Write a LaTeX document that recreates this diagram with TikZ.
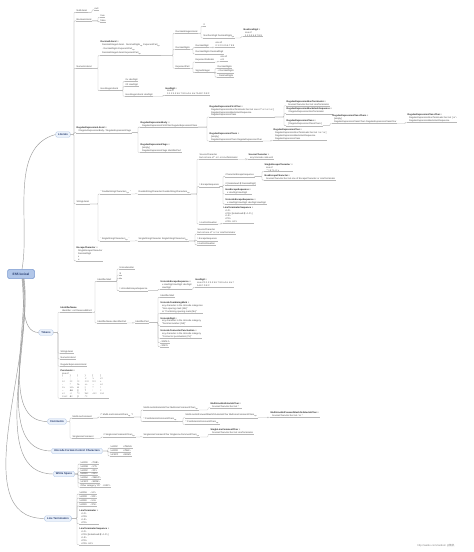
\documentclass[tikz,border=0pt]{standalone}
\usepackage{fontspec}
\setmainfont{Liberation Sans}
\newfontfamily\symfnt{DejaVu Sans}
\newfontfamily\cjk{Noto Sans CJK SC}
\usetikzlibrary{positioning}
\definecolor{lnk}{HTML}{B8B8B8}
\definecolor{txt}{HTML}{474747}
\definecolor{ttlc}{HTML}{222222}
\definecolor{topfill}{HTML}{EAF1FB}
\definecolor{topdraw}{HTML}{B3C7E6}
\definecolor{rootfill}{HTML}{B2C7E9}
\definecolor{rootdraw}{HTML}{7C9AD0}
\definecolor{navy}{HTML}{22376A}
\newcommand\optsub{\textsubscript{opt}}
\newcommand\notinsym{{\symfnt ∉}}
\newcommand\prodname[1]{{\color{ttlc}\bfseries #1}}
\newcommand\nl{\\\hspace*{1.5pt}}
\newcommand\ucode[3]{\makebox[#1][l]{\textbackslash u#2}#3}
\newcommand\linkto[2]{\draw[link] (#1.south east) -| ([xshift=-2pt]#2.south west) -- (#2.south west);}
\newcommand\toplink[2]{\draw[link] (#1.east) -| ([xshift=-2pt]#2.south west) -- (#2.south west);}
\newcommand\pc[1]{\makebox[7.6pt][l]{#1}}

\begin{document}
\begin{tikzpicture}[x=1pt,y=-1pt,
  uline/.style={draw=lnk,line width=0.25pt},
  link/.style={draw=lnk,line width=0.3pt,rounded corners=0.8pt},
  curve/.style={draw=lnk!85!black,line width=0.45pt},
  leaf/.style={anchor=west,inner xsep=0.5pt,inner ysep=0.35pt,text=txt,align=left,
    font=\fontsize{2.3}{2.9}\selectfont,
    append after command={(\tikzlastnode.south west) edge[uline] (\tikzlastnode.south east)}},
  blk/.style={leaf,anchor=north west},
  topic/.style={draw=topdraw,fill=topfill,rounded corners=1.5pt,line width=0.35pt,text=navy,
    font=\fontsize{2.7}{3.2}\selectfont\bfseries,inner xsep=2.5pt,inner ysep=1.2pt,minimum height=5.5pt},
  rootbox/.style={draw=rootdraw,fill=rootfill,rounded corners=1.5pt,line width=0.5pt,text=navy,
    font=\fontsize{3.2}{4}\selectfont\bfseries,minimum width=27pt,minimum height=8.5pt}]
  \fill[white] (0,0) rectangle (474,552);
  \useasboundingbox (0,0) rectangle (474,552);

  \node[rootbox] (root) at (21,274) {ES5 lexical};
  \node[topic] (lit) at (63,134.5) {Literals};
  \node[topic] (tok) at (46,332.5) {Tokens};
  \node[topic] (com) at (57,421.5) {Comments};
  \node[topic] (ufc) at (77,451) {Unicode Format-Control Characters};
  \node[topic] (ws) at (64,474) {White Space};
  \node[topic] (lt) at (58,518.5) {Line Terminators};

  % Literals
  \node[leaf] (nul) at (76,11) {NullLiteral};
  \node[leaf] (nulv) at (94,8.5) {null};
  \node[leaf] (boo) at (76,19.5) {BooleanLiteral};
  \node[leaf] (btrue) at (100,16) {true};
  \node[leaf] (bfalse) at (100,20.5) {false};
  \node[leaf] (num) at (76,67) {NumericLiteral};
  \node[blk] (dec) at (100,40.5) {\prodname{DecimalLiteral ::}\nl DecimalIntegerLiteral . DecimalDigits\optsub\ ExponentPart\optsub\nl . DecimalDigits ExponentPart\optsub\nl DecimalIntegerLiteral ExponentPart\optsub};
  \node[leaf] (dil) at (175,31.7) {DecimalIntegerLiteral};
  \node[leaf] (dil0) at (203,25) {0};
  \node[leaf] (dilnz) at (203,36) {NonZeroDigit DecimalDigits\optsub};
  \node[blk] (nzd) at (243,28) {\prodname{NonZeroDigit ::}\nl one of\nl 1 2 3 4 5 6 7 8 9};
  \node[leaf] (dds) at (175,47.7) {DecimalDigits};
  \node[leaf] (ddsd) at (195,46) {DecimalDigit};
  \node[blk] (ddone) at (215,41.5) {one of\\0 1 2 3 4 5 6 7 8 9};
  \node[leaf] (ddsdd) at (195,52.3) {DecimalDigits DecimalDigit};
  \node[leaf] (exp) at (175,66.7) {ExponentPart};
  \node[leaf] (expi) at (195,60.3) {ExponentIndicator};
  \node[blk] (expone) at (220,55.5) {one of\\e E};
  \node[leaf] (expsi) at (195,71) {SignedInteger};
  \node[leaf] (sid) at (217,67) {DecimalDigits};
  \node[leaf] (sidp) at (217,71.3) {+ DecimalDigits};
  \node[leaf] (sidm) at (217,75.5) {- DecimalDigits};
  \node[leaf] (hex) at (100,89) {HexIntegerLiteral};
  \node[leaf] (hex0x) at (125,80) {0x HexDigit};
  \node[leaf] (hex0X) at (125,85) {0X HexDigit};
  \node[leaf] (hexhd) at (125,94.7) {HexIntegerLiteral HexDigit};
  \node[blk] (hexd) at (165,86.8) {\prodname{HexDigit ::}\nl one of\nl 0 1 2 3 4 5 6 7 8 9 a b c d e f A B C D E F};

  \node[blk] (rel) at (76,126.5) {\prodname{RegularExpressionLiteral ::}\nl / RegularExpressionBody / RegularExpressionFlags};
  \node[blk] (reb) at (140,121) {\prodname{RegularExpressionBody ::}\nl RegularExpressionFirstChar RegularExpressionChars};
  \node[blk] (rfc) at (209,105) {\prodname{RegularExpressionFirstChar ::}\nl RegularExpressionNonTerminator but not one of * or \textbackslash\ or / or {[}\nl RegularExpressionBackslashSequence\nl RegularExpressionClass};
  \node[blk] (rnt) at (286,100) {\prodname{RegularExpressionNonTerminator ::}\nl SourceCharacter but not LineTerminator};
  \node[blk] (rbs) at (286,107.5) {\prodname{RegularExpressionBackslashSequence ::}\nl \textbackslash\ RegularExpressionNonTerminator};
  \node[blk] (rcl) at (286,119.5) {\prodname{RegularExpressionClass ::}\nl {[} RegularExpressionClassChars {]}};
  \node[blk] (rccs) at (332,114.5) {\prodname{RegularExpressionClassChars ::}\nl {[}empty{]}\nl RegularExpressionClassChars RegularExpressionClassChar};
  \node[blk] (rcc) at (407,113.5) {\prodname{RegularExpressionClassChar ::}\nl RegularExpressionNonTerminator but not {]} or \textbackslash\nl RegularExpressionBackslashSequence};
  \node[blk] (rcs) at (209,132) {\prodname{RegularExpressionChars ::}\nl {[}empty{]}\nl RegularExpressionChars RegularExpressionChar};
  \node[blk] (rch) at (273,128.5) {\prodname{RegularExpressionChar ::}\nl RegularExpressionNonTerminator but not \textbackslash\ or / or {[}\nl RegularExpressionBackslashSequence\nl RegularExpressionClass};
  \node[blk] (ref) at (140,143.5) {\prodname{RegularExpressionFlags ::}\nl {[}empty{]}\nl RegularExpressionFlags IdentifierPart};

  \node[leaf] (str) at (76,202.3) {StringLiteral};
  \node[leaf] (sdq) at (100,192) {" DoubleStringCharacters\optsub\ "};
  \node[leaf] (dsc) at (138,192) {DoubleStringCharacter DoubleStringCharacters\optsub};
  \node[blk] (dsrc) at (199,153.5) {SourceCharacter\\but not one of " or \textbackslash\ or LineTerminator};
  \node[blk] (srcch) at (248,153) {\prodname{SourceCharacter ::}\nl any Unicode code unit};
  \node[leaf] (desc) at (199,185) {\textbackslash\ EscapeSequence};
  \node[leaf] (ces) at (225,175) {CharacterEscapeSequence};
  \node[blk] (sec) at (264,163) {\prodname{SingleEscapeCharacter ::}\nl one of\nl \textquotesingle\ " \textbackslash\ b f n r t v};
  \node[blk] (nec) at (264,174) {\prodname{NonEscapeCharacter ::}\nl SourceCharacter but not one of EscapeCharacter or LineTerminator};
  \node[leaf] (zla) at (225,183.3) {0 {[}lookahead \notinsym\ DecimalDigit{]}};
  \node[blk] (hes) at (225,188) {\prodname{HexEscapeSequence ::}\nl x HexDigit HexDigit};
  \node[blk] (ues) at (225,198) {\prodname{UnicodeEscapeSequence ::}\nl u HexDigit HexDigit HexDigit HexDigit};
  \node[leaf] (dlc) at (199,222.7) {LineContinuation};
  \node[blk] (lts) at (223,206) {\prodname{LineTerminatorSequence ::}\nl <LF>\nl <CR> {[}lookahead \notinsym\ <LF>{]}\nl <LS>\nl <PS>\nl <CR> <LF>};
  \node[leaf] (ssq) at (100,239) {\textquotesingle\ SingleStringCharacters\optsub\ \textquotesingle};
  \node[leaf] (ssc) at (138,239) {SingleStringCharacter SingleStringCharacters\optsub};
  \node[blk] (ssrc) at (197,228.3) {SourceCharacter\\but not one of \textquotesingle\ or \textbackslash\ or LineTerminator};
  \node[leaf] (sesc) at (197,239) {\textbackslash\ EscapeSequence};
  \node[leaf] (slc) at (197,243.5) {LineContinuation};
  \node[blk] (escc) at (76,246.5) {\prodname{EscapeCharacter ::}\nl SingleEscapeCharacter\nl DecimalDigit\nl x\nl u};

  % Tokens
  \node[blk] (idn) at (60,306.5) {\prodname{IdentifierName}\nl Identifier: not ReservedWord};
  \node[leaf] (ids) at (97,280) {IdentifierStart};
  \node[leaf] (ul) at (119,267.7) {UnicodeLetter};
  \node[leaf] (dol) at (119,273.5) {\$};
  \node[leaf] (und) at (119,277.5) {\_};
  \node[leaf] (bues) at (119,289) {\textbackslash\ UnicodeEscapeSequence};
  \node[blk] (ues2) at (160,280.3) {\prodname{UnicodeEscapeSequence ::}\nl u HexDigit HexDigit HexDigit\nl HexDigit};
  \node[blk] (hd2) at (195,278.7) {\prodname{HexDigit ::}\nl one of 0 1 2 3 4 5 6 7 8 9 a b c d e f\nl A B C D E F};
  \node[leaf] (idnp) at (97,321.7) {IdentifierName IdentifierPart};
  \node[leaf] (idp) at (135,321.3) {IdentifierPart};
  \node[leaf] (idp1) at (160,296) {IdentifierStart};
  \node[blk] (ucm) at (160,301.5) {\prodname{UnicodeCombiningMark ::}\nl any character in the Unicode categories\nl “Non-spacing mark (Mn)”\nl or “Combining spacing mark (Mc)”};
  \node[blk] (udg) at (160,316.8) {\prodname{UnicodeDigit ::}\nl any character in the Unicode category\nl “Decimal number (Nd)”};
  \node[blk] (ucp) at (160,329.3) {\prodname{UnicodeConnectorPunctuation ::}\nl any character in the Unicode category\nl “Connector punctuation (Pc)”};
  \node[leaf] (zwnj) at (160,341.3) {<ZWNJ>};
  \node[leaf] (zwj) at (160,345.3) {<ZWJ>};
  \node[leaf] (tstr) at (60,351.7) {StringLiteral};
  \node[leaf] (tnum) at (60,357.7) {NumericLiteral};
  \node[leaf] (trel) at (60,364.7) {RegularExpressionLiteral};
  \node[blk] (punc) at (60,369) {\prodname{Punctuator ::}\nl one of
    \nl \pc{\{}\pc{\}}\pc{(}\pc{)}\pc{[}\pc{]}
    \nl \pc{.}\pc{;}\pc{,}\pc{<}\pc{>}\pc{<=}
    \nl \pc{>=}\pc{==}\pc{!=}\pc{===}\pc{!==}\pc{+}
    \nl \pc{-}\pc{*}\pc{\%}\pc{++}\pc{-{}-}\pc{<{}<}
    \nl \pc{>{}>}\pc{>{}>{}>}\pc{\&}\pc{|}\pc{\textasciicircum}\pc{!}
    \nl \pc{\textasciitilde}\pc{\&\&}\pc{||}\pc{?}\pc{:}\pc{=}
    \nl \pc{+=}\pc{-=}\pc{*=}\pc{\%=}\pc{<{}<=}\pc{>{}>=}
    \nl \pc{>{}>{}>=}\pc{\&=}\pc{|=}\pc{\textasciicircum=}};

  % Comments
  \node[leaf] (mlc) at (72,416.7) {MultiLineComment};
  \node[leaf] (mlc1) at (100,415) {/* MultiLineCommentChars\optsub\ */};
  \node[leaf] (mlc2) at (143,408) {MultiLineNotAsteriskChar MultiLineCommentChars\optsub};
  \node[blk] (mlnac) at (210,402) {\prodname{MultiLineNotAsteriskChar ::}\nl SourceCharacter but not *};
  \node[leaf] (mlc3) at (143,419.3) {* PostAsteriskCommentChars\optsub};
  \node[leaf] (pac1) at (185,415.7) {MultiLineNotForwardSlashOrAsteriskChar MultiLineCommentChars\optsub};
  \node[blk] (mlnf) at (270,411.5) {\prodname{MultiLineNotForwardSlashOrAsteriskChar ::}\nl SourceCharacter but not / or *};
  \node[leaf] (pac2) at (185,422.5) {* PostAsteriskCommentChars\optsub};
  \node[leaf] (slcm) at (72,436.7) {SingleLineComment};
  \node[leaf] (slc1) at (103,435) {// SingleLineCommentChars\optsub};
  \node[leaf] (slc2) at (143,435) {SingleLineCommentChar SingleLineCommentChars\optsub};
  \node[blk] (slch) at (210,428.7) {\prodname{SingleLineCommentChar ::}\nl SourceCharacter but not LineTerminator};

  % format-control, white space, line terminators
  \node[leaf] (u1) at (110,446.7) {\ucode{12.5pt}{200C}{<ZWNJ>}};
  \node[leaf] (u2) at (110,450.7) {\ucode{12.5pt}{200D}{<ZWJ>}};
  \node[leaf] (u3) at (110,454.5) {\ucode{12.5pt}{FEFF}{<BOM>}};
  \node[leaf] (w1) at (80,462.7) {\ucode{11pt}{0009}{<TAB>}};
  \node[leaf] (w2) at (80,466.7) {\ucode{11pt}{000B}{<VT>}};
  \node[leaf] (w3) at (80,470.3) {\ucode{11pt}{000C}{<FF>}};
  \node[leaf] (w4) at (80,474) {\ucode{11pt}{0020}{<SP>}};
  \node[leaf] (w5) at (80,477.7) {\ucode{11pt}{00A0}{<NBSP>}};
  \node[leaf] (w6) at (80,481.7) {\ucode{11pt}{FEFF}{<BOM>}};
  \node[leaf] (w7) at (80,485.7) {Other category “Zs”\quad <USP>};
  \node[leaf] (l1) at (79,492.7) {\ucode{11pt}{000A}{<LF>}};
  \node[leaf] (l2) at (79,496.7) {\ucode{11pt}{000D}{<CR>}};
  \node[leaf] (l3) at (79,500.7) {\ucode{11pt}{2028}{<LS>}};
  \node[leaf] (l4) at (79,504.7) {\ucode{11pt}{2029}{<PS>}};
  \node[blk] (ltd) at (79,509.3) {\prodname{LineTerminator ::}\nl <LF>\nl <CR>\nl <LS>\nl <PS>};
  \node[blk] (ltsq) at (79,527.5) {\prodname{LineTerminatorSequence ::}\nl <LF>\nl <CR> {[}lookahead \notinsym\ <LF>{]}\nl <LS>\nl <PS>\nl <CR> <LF>};

  \node[text=gray,font=\fontsize{2.6}{3}\selectfont] (mark) at (436,545.5) {http://weibo.com/random {\cjk @随机}};

  % root curves
  \draw[curve] ([xshift=1pt]root.north) to[out=80,in=195,looseness=0.9] (lit.west);
  \foreach \t/\dx in {tok/1,com/1.5,ufc/2,ws/2.5,lt/3}
    {\draw[curve] ([xshift=\dx pt]root.south) to[out=-82,in=180,looseness=0.85] (\t.west);}

  % connectors
  \foreach \c in {nul,boo,num,rel,str,escc} {\toplink{lit}{\c}}
  \foreach \c in {idn,tstr,tnum,trel,punc} {\toplink{tok}{\c}}
  \foreach \c in {mlc,slcm} {\toplink{com}{\c}}
  \foreach \c in {u1,u2,u3} {\toplink{ufc}{\c}}
  \foreach \c in {w1,w2,w3,w4,w5,w6,w7} {\toplink{ws}{\c}}
  \foreach \c in {l1,l2,l3,l4,ltd,ltsq} {\toplink{lt}{\c}}
  \foreach \p/\c in {nul/nulv,boo/btrue,boo/bfalse,num/dec,num/hex,
      dec/dil,dec/dds,dec/exp,dil/dil0,dil/dilnz,dilnz/nzd,dds/ddsd,dds/ddsdd,ddsd/ddone,
      exp/expi,exp/expsi,expi/expone,expsi/sid,expsi/sidp,expsi/sidm,
      hex/hex0x,hex/hex0X,hex/hexhd,hexhd/hexd,
      rel/reb,rel/ref,reb/rfc,reb/rcs,rfc/rnt,rfc/rbs,rfc/rcl,rcl/rccs,rccs/rcc,rcs/rch,
      str/sdq,str/ssq,sdq/dsc,dsc/dsrc,dsc/desc,dsc/dlc,dsrc/srcch,
      desc/ces,desc/zla,desc/hes,desc/ues,ces/sec,ces/nec,dlc/lts,
      ssq/ssc,ssc/ssrc,ssc/sesc,ssc/slc,
      idn/ids,idn/idnp,ids/ul,ids/dol,ids/und,ids/bues,bues/ues2,ues2/hd2,idnp/idp,
      idp/idp1,idp/ucm,idp/udg,idp/ucp,idp/zwnj,idp/zwj,
      mlc/mlc1,mlc1/mlc2,mlc1/mlc3,mlc2/mlnac,mlc3/pac1,mlc3/pac2,pac1/mlnf,
      slcm/slc1,slc1/slc2,slc2/slch}
    {\linkto{\p}{\c}}
\end{tikzpicture}
\end{document}
